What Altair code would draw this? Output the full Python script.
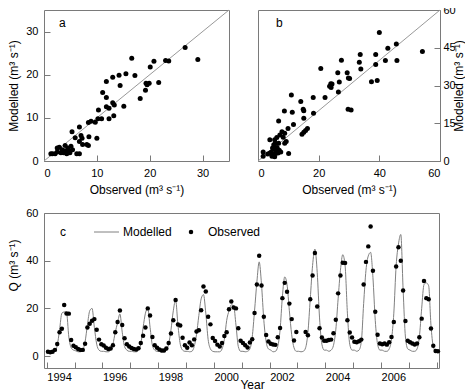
import altair as alt
import pandas as pd
import numpy as np

nan = np.nan

# ---------------- panel a (calibration scatter) ----------------
a_obs = [26.7, 29.1, 16.6, 23.0, 23.6, 20.8, 20.1, 14.2, 15.5, 13.0, 17.2, 11.8, 14.4, 19.3,
         19.9, 19.5, 21.7, 19.2, 18.2, 11.1, 11.8, 11.8, 12.3, 13.0, 13.3, 15.1, 10.3, 12.3,
         13.2, 10.2, 10.9, 9.7, 8.9, 8.4, 10.0, 8.5, 6.7, 5.3, 5.9, 7.0, 7.2, 6.7, 7.3, 8.1,
         8.4, 6.2, 6.7, 4.0, 4.5, 5.1, 2.9, 3.4, 3.8, 4.3, 4.8, 2.5, 2.1, 1.6, 1.3, 3.2, 3.7,
         4.3, 4.9, 5.4, 2.5]
a_mod = [26.3, 23.5, 23.8, 23.3, 23.2, 23.1, 21.8, 19.9, 20.2, 19.4, 19.8, 18.4, 17.5, 18.0,
         18.0, 17.7, 18.2, 16.4, 14.5, 15.9, 14.7, 12.6, 12.2, 13.5, 13.0, 12.7, 11.8, 9.8,
         10.5, 9.8, 9.8, 9.0, 9.2, 8.9, 5.3, 5.6, 7.9, 6.8, 5.4, 5.9, 5.3, 4.5, 3.8, 3.8,
         3.6, 1.7, 1.7, 3.6, 3.0, 3.4, 3.2, 2.6, 2.4, 2.3, 2.3, 2.1, 1.7, 1.7, 1.7, 1.9, 1.9,
         1.7, 1.9, 2.6, 3.0]

# ---------------- panel b (validation scatter) ----------------
b_obs = [40.0, 54.2, 45.6, 42.8, 33.7, 38.8, 33.4, 27.5, 20.7, 33.9, 38.8, 42.0, 45.8, 26.3,
         29.4, 29.8, 30.2, 24.0, 24.4, 26.8, 23.6, 24.1, 26.5, 37.4, 39.3, 22.1, 18.2, 11.0,
         14.1, 8.7, 11.3, 14.9, 15.1, 18.3, 29.7, 30.7, 15.1, 6.8, 11.7, 16.3, 15.7, 15.1,
         14.5, 9.9, 7.9, 8.8, 7.2, 8.3, 6.2, 5.5, 3.9, 9.3, 8.8, 6.8, 5.7, 5.2, 4.8, 5.7, 6.5,
         7.0, 4.4, 3.9, 5.1, 5.8, 6.6, 7.5, 4.6, 5.5, 1.7, 1.7, 10.1, 3.2, 6.3]
b_mod = [51.1, 43.5, 46.5, 44.8, 42.3, 42.3, 39.2, 40.0, 36.8, 36.6, 38.3, 39.9, 39.9, 35.1,
         35.1, 33.0, 32.8, 30.7, 30.6, 31.4, 29.7, 29.2, 27.4, 31.5, 32.0, 25.2, 25.2, 26.2,
         23.6, 19.9, 19.4, 20.6, 20.0, 19.0, 20.6, 20.3, 17.0, 15.9, 14.5, 12.9, 12.1, 11.4,
         10.6, 12.9, 11.6, 11.0, 10.3, 9.4, 9.3, 8.4, 8.4, 7.7, 7.1, 7.1, 7.1, 6.5, 5.2, 4.5,
         4.5, 4.3, 3.6, 3.2, 2.6, 3.0, 3.2, 3.6, 1.9, 1.7, 3.6, 1.9, 3.0, 2.8, 5.4]

# ---------------- panel c (monthly discharge 1994-2007) ----------------
start_year = 1994
observed_q = [
    1.8, 1.6, 1.8, 2.6, 5.1, 10.0, 11.5, 21.4, 17.9, 17.8, 6.7, 4.3,      # 1994
    3.7, 3.0, 2.6, 2.6, 5.2, 12.0, 13.6, 14.8, 15.5, 11.0, 6.9, 5.0,      # 1995
    4.4, 3.5, 3.0, 3.2, 4.5, 10.0, 14.3, 19.1, 13.0, 7.5, 5.0, 4.0,       # 1996
    3.4, 3.0, 2.8, 3.3, 5.5, 8.5, 12.0, 20.0, 17.0, 8.0, 4.5, 3.5,        # 1997
    2.8, 2.3, 2.3, 3.2, 5.5, 9.5, 15.0, 23.5, 13.2, 12.8, 7.7, 4.5,       # 1998
    3.5, 5.7, 4.5, 7.0, 10.3, 10.8, 19.2, 29.2, 27.1, 16.5, 13.3, 7.6,    # 1999
    6.3, 4.8, 4.0, 5.5, 8.4, 10.0, 19.6, 22.9, 20.4, 20.0, 11.7, 6.4,     # 2000
    5.5, 4.5, 3.6, 5.7, 7.1, 18.1, 30.0, 42.1, 29.6, 16.5, 8.8, 6.1,      # 2001
    5.2, 4.9, 4.7, 7.9, 11.8, 24.3, 30.7, 27.0, 22.0, 15.5, 6.5, 10.1,    # 2002
    nan, nan, nan, 10.1, 8.7, 23.8, 33.8, 43.2, 20.8, 11.7, 7.8, 6.4,     # 2003
    6.4, 6.7, 6.9, 9.6, 15.2, 26.3, 33.8, 39.1, 39.0, 15.0, 9.9, 7.8,     # 2004
    6.0, 5.8, 6.2, 6.9, 30.0, 39.5, 46.0, 54.3, 35.8, 18.6, 8.9, 5.3,     # 2005
    5.0, 5.3, 4.8, 5.8, 8.0, 14.3, 37.6, 45.6, 40.0, 27.5, 14.7, 6.4,     # 2006
    5.8, 5.3, 4.9, 5.3, 7.9, 15.7, 31.5, 24.3, 23.8, 11.6, 4.3, 2.1,      # 2007
    2.0,                                                                  # 2008
]
modelled_q = [
    2.0, 1.8, 1.8, 2.2, 4.5, 11.0, 18.0, 18.5, 18.3, 8.0, 3.5, 2.5,       # 1994
    2.2, 1.8, 1.8, 2.5, 6.0, 13.0, 19.0, 20.0, 12.0, 5.0, 2.5, 2.0,       # 1995
    2.0, 1.8, 1.8, 2.5, 5.0, 10.0, 14.0, 17.7, 10.0, 4.0, 2.5, 2.0,       # 1996
    2.0, 1.8, 1.8, 2.5, 5.0, 12.0, 18.0, 20.0, 12.0, 4.5, 2.5, 2.0,       # 1997
    2.0, 1.8, 1.8, 2.5, 5.0, 11.0, 19.0, 23.5, 13.0, 5.0, 2.5, 2.0,       # 1998
    2.0, 1.8, 2.0, 4.0, 9.0, 17.0, 24.0, 25.8, 18.0, 7.0, 3.0, 2.0,       # 1999
    1.8, 1.8, 1.8, 3.0, 7.0, 15.0, 19.0, 21.5, 21.0, 13.0, 4.0, 2.0,      # 2000
    2.0, 1.8, 2.0, 3.0, 8.0, 19.0, 31.0, 39.5, 30.0, 15.0, 6.0, 3.0,      # 2001
    2.5, 1.8, 2.0, 4.0, 11.0, 25.0, 33.2, 30.0, 19.0, 9.0, 3.5, 2.0,      # 2002
    2.0, 1.8, 2.0, 3.5, 10.0, 24.0, 38.0, 44.9, 35.0, 16.0, 5.0, 2.5,     # 2003
    2.5, 2.0, 2.5, 4.5, 11.0, 24.0, 36.0, 42.5, 38.0, 18.0, 5.0, 2.5,     # 2004
    2.5, 2.0, 2.5, 6.0, 22.0, 36.0, 42.0, 43.5, 33.0, 15.0, 5.0, 2.5,     # 2005
    2.5, 2.0, 2.0, 3.0, 7.0, 18.0, 38.0, 47.0, 51.0, 28.0, 8.0, 3.0,      # 2006
    2.5, 2.0, 2.0, 3.0, 8.0, 20.0, 30.0, 30.7, 29.5, 13.0, 4.0, 2.0,      # 2007
    1.6,                                                                  # 2008
]
year_ticks = list(range(1994, 2009))

FONT = "Liberation Sans"
FRAME = "#7a7a7a"


def ax(**kw):
    base = dict(grid=False, domain=False, ticks=True, tickSize=6, offset=-6,
                tickColor=FRAME, tickWidth=1, labelFontSize=11, titleFontSize=12,
                labelColor="black", titleColor="black", titleFontWeight="normal",
                labelFont=FONT, titleFont=FONT)
    base.update(kw)
    return alt.Axis(**base)


def letter(txt, x, y):
    return alt.Chart(pd.DataFrame({"t": [txt]})).mark_text(
        font=FONT, fontSize=12, color="black", align="left", baseline="alphabetic"
    ).encode(text="t:N", x=alt.value(x), y=alt.value(y))


# ---- panel a ----
df_a = pd.DataFrame({"obs": a_obs, "mod": a_mod})
diag_a = pd.DataFrame({"obs": [0, 35], "mod": [0, 35]})
xa = alt.X("obs:Q", scale=alt.Scale(domain=[0, 35], nice=False, zero=False),
           axis=ax(values=[0, 10, 20, 30], title="Observed (m³ s⁻¹)", labelPadding=6, titlePadding=6))
ya = alt.Y("mod:Q", scale=alt.Scale(domain=[0, 35], nice=False, zero=False),
           axis=ax(values=[0, 10, 20, 30], title="Modelled (m³ s⁻¹)", labelPadding=6, titlePadding=5))
panel_a = alt.layer(
    alt.Chart(diag_a).mark_line(color="#999999", strokeWidth=1).encode(x=xa, y=ya),
    alt.Chart(df_a).mark_circle(size=25, color="black", opacity=1).encode(x=xa, y=ya),
    letter("a", 15, 17),
).properties(width=185, height=151)

# ---- panel b ----
df_b = pd.DataFrame({"obs": b_obs, "mod": b_mod})
diag_b = pd.DataFrame({"obs": [0, 60], "mod": [0, 60]})
xb = alt.X("obs:Q", scale=alt.Scale(domain=[0, 60], nice=False, zero=False),
           axis=ax(values=[0, 20, 40, 60], title="Observed (m³ s⁻¹)", labelPadding=6, titlePadding=6))
yb = alt.Y("mod:Q", scale=alt.Scale(domain=[0, 60], nice=False, zero=False),
           axis=ax(values=[0, 15, 30, 45, 60], orient="right", title="Modelled (m³ s⁻¹)",
                   titleAngle=270, labelPadding=3, titlePadding=10))
panel_b = alt.layer(
    alt.Chart(diag_b).mark_line(color="#999999", strokeWidth=1).encode(x=xb, y=yb),
    alt.Chart(df_b).mark_circle(size=25, color="black", opacity=1).encode(x=xb, y=yb),
    letter("b", 18, 17),
).properties(width=182, height=151)

# ---- panel c ----
n = len(observed_q)
t = [start_year + (i + 0.5) / 12.0 for i in range(n)]
df_c = pd.DataFrame({"t": t, "obs": observed_q, "mod": modelled_q})
xc = alt.X("t:Q", scale=alt.Scale(domain=[1993.9, 2008.08], nice=False, zero=False),
           axis=ax(values=year_ticks, title="Year", labelAlign="left", labelPadding=3,
                   titleX=208, titleY=17,
                   labelExpr="datum.value % 2 == 0 && datum.value < 2008 ? '' + datum.value : ''"))
yscale_c = alt.Scale(domain=[-5, 60], nice=False, zero=False)
yc_axis = ax(values=[0, 20, 40, 60], title="Q (m³ s⁻¹)", labelPadding=6, titlePadding=5, titleY=52)
line_c = alt.Chart(df_c).mark_line(color="#808080", strokeWidth=1, interpolate="monotone").encode(
    x=xc, y=alt.Y("mod:Q", scale=yscale_c, axis=yc_axis))
pts_c = alt.Chart(df_c).transform_filter("isValid(datum.obs)").mark_circle(
    size=20, color="black", opacity=1).encode(
    x=xc, y=alt.Y("obs:Q", scale=yscale_c, axis=yc_axis))

legend_df = pd.DataFrame({"lab": ["Modelled", "Observed"]})
leg_line = alt.Chart(legend_df).transform_filter("datum.lab == 'Modelled'").mark_rule(
    color="#808080", strokeWidth=1).encode(x=alt.value(50), x2=alt.value(75), y=alt.value(19))
leg_dot = alt.Chart(legend_df).transform_filter("datum.lab == 'Observed'").mark_circle(
    size=20, color="black", opacity=1).encode(x=alt.value(147), y=alt.value(19))
leg_txt1 = alt.Chart(legend_df).transform_filter("datum.lab == 'Modelled'").mark_text(
    font=FONT, fontSize=12, align="left", baseline="middle", color="black").encode(
    text="lab:N", x=alt.value(79), y=alt.value(19))
leg_txt2 = alt.Chart(legend_df).transform_filter("datum.lab == 'Observed'").mark_text(
    font=FONT, fontSize=12, align="left", baseline="middle", color="black").encode(
    text="lab:N", x=alt.value(164), y=alt.value(19))

panel_c = alt.layer(
    line_c, pts_c, leg_line, leg_dot, leg_txt1, leg_txt2, letter("c", 16, 23)
).properties(width=395, height=155)

top = alt.hconcat(panel_a, panel_b, spacing=29, bounds="flush")
chart = alt.vconcat(top, panel_c, spacing=10, bounds="full").properties(
    padding={"left": -1, "top": -5, "right": 0, "bottom": 0}
).configure(font=FONT).configure_view(stroke=FRAME, strokeWidth=1)

chart.save("out.html", embed_options={"renderer": "svg", "actions": False})
